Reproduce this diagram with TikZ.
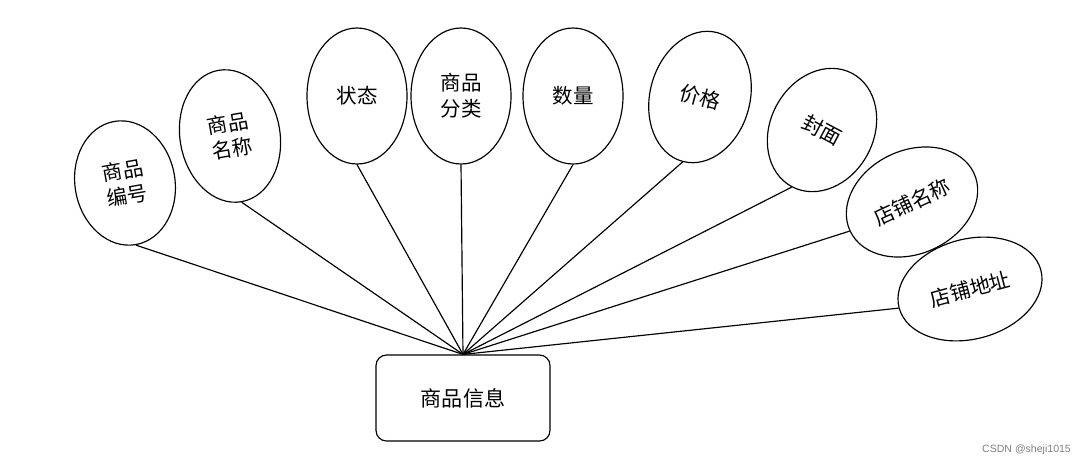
\documentclass[tikz,border=0pt]{standalone}
\usepackage{fontspec}
\newfontfamily\cjk{Noto Sans CJK SC}
\usetikzlibrary{shapes.geometric}
\begin{document}
\begin{tikzpicture}[x=0.03cm,y=-0.03cm,
  attr/.style={ellipse,draw,line width=1pt,inner sep=0pt,align=center,font=\cjk\fontsize{17.5}{22}\selectfont},
  ent/.style={rectangle,rounded corners=9pt,draw,line width=1pt,minimum width=5.22cm,minimum height=2.58cm,font=\cjk\fontsize{18}{22}\selectfont},
  link/.style={line width=1pt}]
\useasboundingbox (0,0) rectangle (1089,466);
\node[ent] (r) at (463,398) {商品信息};
\node[attr,minimum width=3cm,minimum height=3.75cm,rotate=10] (a1) at (125,183) {商品\\编号};
\node[attr,minimum width=3cm,minimum height=4cm,rotate=10] (a2) at (230,136) {商品\\名称};
\node[attr,minimum width=3cm,minimum height=4.08cm] (a3) at (357,96) {状态};
\node[attr,minimum width=3cm,minimum height=4.08cm] (a4) at (461,96) {商品\\分类};
\node[attr,minimum width=3cm,minimum height=4.08cm] (a5) at (573,96) {数量};
\node[attr,minimum width=3cm,minimum height=4cm,rotate=-15] (a6) at (700,97) {价格};
\node[attr,minimum width=3.1cm,minimum height=3.85cm,rotate=-28] (a7) at (822,130) {封面};
\node[attr,minimum width=4.1cm,minimum height=3.1cm,rotate=25] (a8) at (912,202) {店铺名称};
\node[attr,minimum width=4.4cm,minimum height=3cm,rotate=15] (a9) at (970,289) {店铺地址};
\coordinate (h) at (r.north);
\draw[link] (h) -- (a1.south);
\draw[link] (h) -- (a2.south);
\draw[link] (h) -- (a3.south);
\draw[link] (h) -- (a4.south);
\draw[link] (h) -- (a5.south);
\draw[link] (h) -- (a6.south);
\draw[link] (h) -- (a7.south);
\draw[link] (h) -- (a8.west);
\draw[link] (h) -- (a9.west);
\node[anchor=east,text=gray,font=\fontspec{Liberation Sans}\fontsize{9}{11}\selectfont] (wm) at (1075,450) {CSDN @sheji1015};
\end{tikzpicture}
\end{document}
